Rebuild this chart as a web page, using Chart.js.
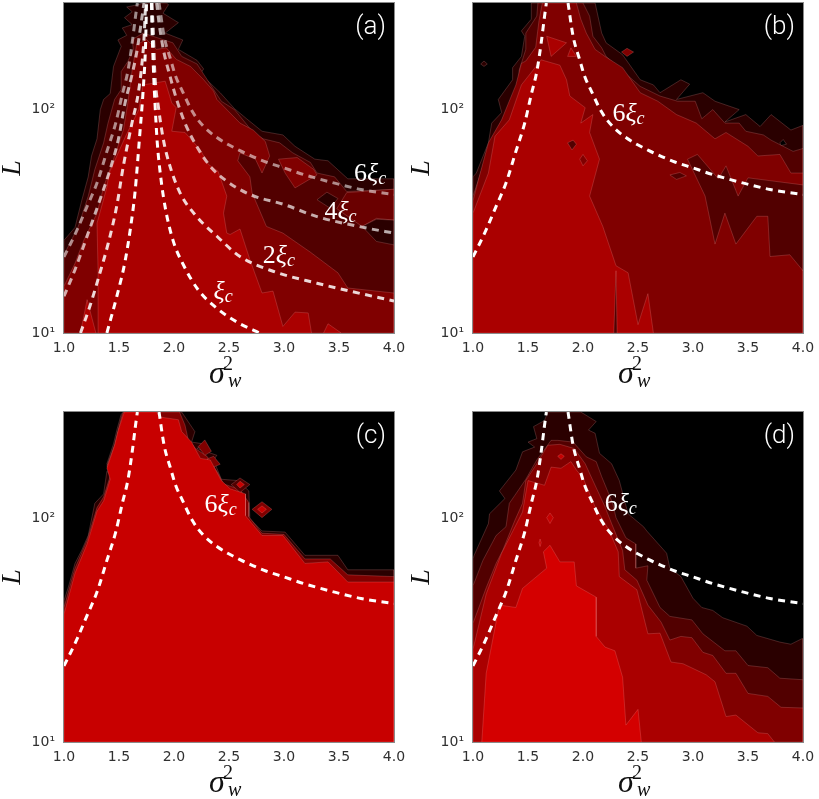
<!DOCTYPE html>
<html>
<head>
<meta charset="utf-8">
<title>Contours</title>
<script src="https://cdn.jsdelivr.net/npm/chart.js@4/dist/chart.umd.min.js"></script>
<style>
  html, body { margin: 0; padding: 0; background: #fff; }
  canvas { position: absolute; }
</style>
</head>
<body>
<canvas id="panelA" width="410" height="390" style="left:0;top:0"></canvas>
<canvas id="panelB" width="410" height="390" style="left:409px;top:0"></canvas>
<canvas id="panelC" width="410" height="390" style="left:0;top:409px"></canvas>
<canvas id="panelD" width="410" height="390" style="left:409px;top:409px"></canvas>
<script>
// every region is a list of [sigma_w^2, L]
const xTicks = [1.0, 1.5, 2.0, 2.5, 3.0, 3.5, 4.0];
const yTicks = [10, 100];
const yTickLabels = ["10¹", "10²"];

// dashed correlation length curves
const xi1Left = [[1.39,10],[1.48,14.6],[1.555,20.9],[1.615,32.1],[1.645,42.4],[1.69,78.7],[1.72,123],[1.742,199],[1.75,300]];
const xi1Right = [[1.795,300],[1.797,266],[1.812,156],[1.827,107],[1.848,71],[1.882,48.7],[1.924,35.6],[1.994,25.7],[2.085,20.2],[2.22,15.6],[2.39,12.9],[2.585,11.1],[2.78,10]];
const xi2Left = [[1.15,10],[1.236,13.2],[1.327,18.6],[1.403,25.3],[1.479,36.9],[1.539,55.7],[1.615,85.7],[1.676,119],[1.706,156],[1.727,206],[1.742,300]];
const xi2Right = [[1.8,300],[1.812,220],[1.827,141],[1.858,103],[1.903,73.5],[1.964,55.7],[2.055,42.4],[2.206,33.2],[2.39,27.1],[2.6,22],[2.9,18.9],[3.3,16.7],[3.6,15.4],[4,13.9]];
const xi4Left = [[1,14.6],[1.1,19.2],[1.22,28],[1.327,39.5],[1.418,53.8],[1.494,73.5],[1.555,107],[1.615,141],[1.66,179],[1.706,253],[1.727,300]];
const xi4Right = [[1.842,300],[1.864,244],[1.903,186],[1.964,141],[2.024,111],[2.1,87],[2.206,68.5],[2.33,55.7],[2.48,47.8],[2.69,41.7],[3,37.6],[3.3,33.2],[3.75,29.5],[4,28]];
const xi6Left = [[1,21.9],[1.12,29],[1.21,36.9],[1.3,46.9],[1.39,65],[1.47,87],[1.53,117],[1.58,148],[1.62,199],[1.65,261],[1.667,300]];
const xi6Right = [[1.864,300],[1.91,213],[1.97,167],[2.015,141],[2.076,121],[2.167,98],[2.26,85],[2.39,75],[2.6,65.5],[2.82,58.7],[3,54.8],[3.18,51.2],[3.45,47],[3.7,43.9],[4,41.7]];

// panel a
const a1 = [[1,10],[1,26],[1.1,29.7],[1.16,39],[1.22,50],[1.25,62],[1.3,74],[1.33,100],[1.36,111],[1.42,118],[1.45,156],[1.52,192],[1.49,205],[1.57,215],[1.53,232],[1.62,240],[1.55,258],[1.62,274],[1.57,288],[1.66,294],[1.72,300],[1.93,300],[1.95,295],[1.9,270],[2.04,245],[1.92,220],[2.08,205],[2.04,186],[2.21,166],[2.27,152],[2.24,145],[2.36,127],[2.42,119],[2.55,101],[2.66,91],[2.8,80],[2.99,77],[3.1,68.5],[3.28,60],[3.4,59],[3.58,49],[4,49],[4,10]];
const a2 = [[1,10],[1,22.4],[1.13,30],[1.22,40.9],[1.28,53.9],[1.36,71],[1.4,87],[1.46,111],[1.52,123],[1.52,148],[1.58,164],[1.63,186],[1.62,206],[1.72,220],[1.99,199],[2.07,173],[2.21,160],[2.36,123],[2.43,109],[2.55,100],[2.72,79],[2.81,74],[2.96,71],[3.08,64],[3.24,58],[3.3,52],[3.46,50],[3.57,43],[4,44],[4,10]];
const a3 = [[1,10],[1,16.2],[1.1,20.5],[1.18,26],[1.3,34.4],[1.36,45],[1.45,60],[1.54,81],[1.58,107],[1.62,151],[1.66,195],[1.75,206],[1.84,186],[1.93,189],[2.02,168],[2.15,156],[2.27,136],[2.36,121],[2.39,111],[2.6,87],[2.72,81],[2.83,72],[2.87,62],[2.8,52],[2.74,60],[2.6,64],[2.58,59],[2.69,50],[2.71,42.4],[2.84,30],[2.99,28],[3.24,23],[3.49,18.6],[3.58,15.9],[4,15.1],[4,10]];
const aWedge = [[2.95,60],[3.12,61],[3.27,54],[3.3,51],[3.1,44.6],[3.01,52]];
const aPatch = [[3.57,42.5],[4,44],[4,32],[3.84,32.6],[3.71,30],[3.48,36]];
const aDarkRight = [[3.71,30],[3.84,32.3],[4,32],[4,24.8],[3.84,25.7]];
const aDiamond = [[3.3,39.5],[3.39,42.7],[3.49,40],[3.42,36.2]];
const a4 = [[1.31,10],[1.31,18.6],[1.3,31],[1.39,45],[1.41,52],[1.48,62],[1.56,76],[1.68,100],[1.72,129],[1.92,134],[1.98,107],[2.02,102],[1.98,80],[2.1,79],[2.24,66],[2.31,57],[2.4,53],[2.48,41],[2.45,34.4],[2.48,28],[2.51,27.6],[2.6,29.2],[2.69,21.3],[2.8,15.1],[2.9,15.4],[2.99,10.7],[3.1,12.4],[3.22,12.3],[3.25,10]];
const aIsland = [[3.36,10],[3.4,11],[3.52,10]];
const aTriangle = [[1.21,14.1],[1.29,10],[1.15,10]];

// panel b
const b1 = [[1,10],[1,50],[1.03,52],[1.14,71],[1.17,87],[1.26,97],[1.23,111],[1.36,136],[1.36,154],[1.44,173],[1.47,213],[1.44,225],[1.53,254],[1.53,300],[2.11,300],[2.17,220],[2.21,199],[2.36,176],[2.52,136],[2.64,129],[2.7,119],[2.89,136],[2.97,130],[2.85,111],[3.09,119],[3.2,109],[3.42,100],[3.29,88],[3.48,95],[3.61,84],[3.71,95],[3.89,81],[4,85],[4,10]];
const b2 = [[1,10],[1,41],[1.09,55.7],[1.17,73],[1.3,97],[1.42,127],[1.42,150],[1.48,186],[1.48,220],[1.58,262],[1.59,300],[2,300],[2.06,262],[2.09,213],[2.17,189],[2.21,173],[2.3,158],[2.52,127],[2.7,115],[2.86,109],[3.02,109],[3.08,91],[3.18,100],[3.29,87],[3.42,87],[3.48,80],[3.64,77],[3.71,73],[3.91,65],[4,67],[4,10]];
const b3 = [[1,10],[1,39],[1.05,48.7],[1.14,71],[1.26,90],[1.39,129],[1.44,161],[1.48,165],[1.57,190],[1.6,250],[1.63,300],[1.94,300],[1.98,254],[2.03,220],[2.11,186],[2.2,173],[2.36,154],[2.52,119],[2.68,109],[2.85,95],[3.03,87],[3.2,74],[3.3,79],[3.5,68.5],[3.59,62],[3.79,63],[3.89,52],[4,52],[4,10]];
const bDark = [[2.95,60],[3.04,63],[3.23,49],[3.3,56],[3.41,41],[3.5,49.5],[4,46],[4,19],[3.88,22.4],[3.7,22],[3.68,33.3],[3.58,33.3],[3.39,25],[3.29,34.4],[3.2,25],[3.11,41]];
const bSmallDark = [[2.79,51],[2.88,52.3],[2.94,50.5],[2.85,48.7]];
const b4 = [[1,10],[1,34.4],[1.14,52],[1.2,76],[1.33,90],[1.44,129],[1.62,167],[1.79,158],[1.85,136],[1.88,115],[2.02,102],[1.98,87],[2.09,95],[2.06,79],[2.15,60],[2.06,41],[2.18,30],[2.3,20],[2.41,18.6],[2.5,10.9],[2.59,15],[2.64,10]];
const bTopPatch1 = [[1.67,213],[1.85,199],[1.71,173]];
const bTopPatch2 = [[1.89,189],[1.94,173],[1.86,173]];
const bHole1 = [[1.86,71],[1.91,73],[1.94,70],[1.9,66]];
const bHole2 = [[1.97,60],[2,63],[2.04,59],[2,56]];
const bSlit = [[2.28,10],[2.3,19],[2.31,10]];
const bSpeck1 = [[2.35,181],[2.4,188],[2.46,181],[2.4,173]];
const bSpeck2 = [[1.07,160],[1.1,165],[1.13,160],[1.1,156]];
const bBlack1 = [[2.98,103],[3,108],[3.04,101],[3,99]];
const bBlack2 = [[3.79,71],[3.82,73.5],[3.85,70],[3.8,69]];

// panel c
const c1 = [[1,10],[1,43],[1.04,49.4],[1.1,63],[1.16,72],[1.22,84],[1.28,117],[1.36,129],[1.39,163],[1.43,156],[1.39,176],[1.45,216],[1.48,249],[1.52,293],[1.54,300],[2.07,300],[2.19,245],[2.16,220],[2.27,216],[2.21,206],[2.39,192],[2.36,183],[2.43,150],[2.58,148],[2.68,133],[2.69,100],[2.8,88],[3.01,87],[3.19,68.5],[3.49,68.5],[3.58,59],[4,59],[4,10]];
const c2 = [[1,10],[1,40],[1.1,60],[1.21,80],[1.3,112],[1.36,125],[1.42,155],[1.39,172],[1.46,214],[1.49,247],[1.53,293],[1.54,300],[2.05,300],[2.1,262],[2.13,225],[2.2,205],[2.3,190],[2.4,160],[2.45,143],[2.6,135],[2.68,118],[2.68,102],[2.8,86],[3,85],[3.19,66],[3.42,66],[3.58,56],[4,55],[4,10]];
const cMain = [[1,10],[1,37.4],[1.1,57],[1.21,77],[1.3,108],[1.36,120],[1.42,150],[1.39,168],[1.46,213],[1.49,245],[1.54,293],[1.55,300],[1.84,300],[1.87,285],[2.04,277],[2.07,245],[2.16,220],[2.24,186],[2.33,183],[2.43,148],[2.51,136],[2.65,129],[2.65,103],[2.8,84],[2.99,84],[3.19,63],[3.4,64],[3.58,52],[4,52],[4,10]];
const cDiamond1 = [[2.71,110],[2.8,119],[2.89,110],[2.8,101]];
const cDiamond1Core = [[2.76,110],[2.8,114],[2.84,110],[2.8,106]];
const cDiamond2 = [[2.52,142],[2.6,152],[2.69,142],[2.6,131]];
const cDiamond2Core = [[2.57,142],[2.6,147],[2.64,142],[2.6,137]];
const cDiamond3 = [[2.22,210],[2.28,225],[2.34,200],[2.28,192]];
const cDiamond4 = [[2.3,185],[2.36,190],[2.42,175],[2.36,170]];

// panel d
const d1 = [[1,10],[1,66],[1.01,68.5],[1.14,95],[1.15,105],[1.29,123],[1.24,133],[1.39,165],[1.45,199],[1.56,209],[1.5,220],[1.58,228],[1.55,258],[1.65,275],[1.68,300],[1.98,300],[2.12,272],[2.05,249],[2.11,241],[2.15,196],[2.26,176],[2.33,148],[2.41,105],[2.55,92],[2.58,88],[2.76,70],[2.79,60],[2.89,55],[3,44],[3.08,40],[3.18,38.8],[3.27,36],[3.49,33],[3.58,30],[3.79,28],[3.89,27.4],[3.99,29],[4,29],[4,10]];
const d2 = [[1,10],[1,50],[1.09,65],[1.21,84],[1.3,92],[1.33,117],[1.38,127],[1.48,150],[1.58,183],[1.71,224],[1.77,224],[1.91,220],[2.03,189],[2.12,180],[2.17,154],[2.27,117],[2.3,101],[2.39,82],[2.48,77],[2.48,60],[2.59,61.5],[2.58,53],[2.7,40],[2.79,36.5],[2.99,35.2],[3.09,30.5],[3.29,25.6],[3.39,25.6],[3.5,22],[3.68,21.5],[3.79,19.3],[4,19],[4,10]];
const d3 = [[1,10],[1,34],[1.12,49],[1.21,63],[1.27,72],[1.38,98],[1.45,117],[1.48,148],[1.58,176],[1.68,213],[1.79,215],[1.92,206],[2.02,176],[2.09,148],[2.2,113],[2.26,95],[2.36,72],[2.38,59],[2.49,53],[2.59,41],[2.71,34.4],[2.79,28.6],[2.89,29.7],[2.99,29.3],[3.09,25.2],[3.18,24.4],[3.3,20.3],[3.39,20.3],[3.5,16.5],[3.68,16],[3.8,14.3],[4,14.2],[4,10]];
const d4 = [[1,10],[1,26],[1.12,46],[1.26,70],[1.45,107],[1.5,148],[1.65,141],[1.71,170],[1.8,168],[1.89,180],[1.94,165],[2,152],[2.11,113],[2.24,88],[2.32,71],[2.33,55],[2.49,48],[2.59,30.5],[2.7,30.7],[2.8,22.8],[2.91,22.4],[3.12,20],[3.2,18.6],[3.3,13],[3.39,13.2],[3.59,11],[3.68,10.9],[3.74,10]];
const d5 = [[1.08,10],[1.12,20.3],[1.24,41],[1.39,40],[1.45,48.7],[1.67,60],[1.64,71],[1.7,76],[1.79,64],[1.92,64],[1.94,50],[2.12,44.5],[2.12,29.7],[2.2,26.6],[2.29,25.6],[2.36,19.5],[2.39,11.9],[2.5,14],[2.53,10]];
const dSpeck1 = [[1.67,101],[1.7,106],[1.73,101],[1.7,95]];
const dSpeck2 = [[1.77,190],[1.8,195],[1.83,190],[1.8,184]];
const dSpeck3 = [[1.6,78],[1.61,81],[1.62,78],[1.61,75]];

const BLACK = "#000000", L1 = "#2a0000", L2 = "#520000", L3 = "#800000", L4 = "#aa0000", L5 = "#d40000", MAIN_C = "#c80000";

function region(points, color) {
  return {
    type: "line",
    data: [...points, points[0]].map(p => ({ x: p[0], y: p[1] })),
    fill: "shape",
    backgroundColor: color,
    borderColor: "rgba(255,170,170,0.3)",
    borderWidth: 0.7,
    pointRadius: 0,
    tension: 0,
  };
}

function curve(points, color) {
  return {
    type: "line",
    data: points.map(p => ({ x: p[0], y: p[1] })),
    fill: false,
    borderColor: color,
    borderWidth: 3,
    borderDash: [7, 5.5],
    pointRadius: 0,
    cubicInterpolationMode: "monotone",
  };
}

// black ground, frame and the text that sits inside or around the axes
const panelDecor = {
  id: "panelDecor",
  beforeDatasetsDraw(chart) {
    const a = chart.chartArea, c = chart.ctx;
    c.save();
    c.fillStyle = BLACK;
    c.fillRect(a.left, a.top, a.width, a.height);
    c.restore();
  },
  afterDraw(chart) {
    const a = chart.chartArea, c = chart.ctx, o = chart.options.plugins.panelDecor;
    c.save();
    c.strokeStyle = "#8a8a8a";
    c.lineWidth = 1;
    c.strokeRect(a.left - 0.5, a.top - 0.5, a.width + 1, a.height + 1);

    c.fillStyle = "#ffffff";
    c.textBaseline = "alphabetic";
    c.textAlign = "right";
    c.font = '300 26px Roboto';
    c.fillText(o.tag, a.right - 8, a.top + 31);

    c.textAlign = "left";
    o.notes.forEach(n => {
      let px = chart.scales.x.getPixelForValue(n[2]) - (n[0] ? 19 : 10);
      const py = chart.scales.y.getPixelForValue(n[3]);
      c.font = '26px "Liberation Serif"';
      c.fillText(n[0], px, py + 8);
      px += c.measureText(n[0]).width;
      c.font = 'italic 26px "Liberation Serif"';
      c.fillText(n[1], px, py + 8);
      px += c.measureText(n[1]).width;
      c.font = 'italic 18px "Liberation Serif"';
      c.fillText("c", px, py + 11);
    });

    c.fillStyle = "#111111";
    const mid = (a.left + a.right) / 2;
    c.font = 'italic 32px "Liberation Serif"';
    c.fillText("σ", mid - 20, a.bottom + 50);
    c.font = '20px "Liberation Serif"';
    c.fillText("2", mid - 6, a.bottom + 37);
    c.font = 'italic 20px "Liberation Serif"';
    c.fillText("w", mid - 1, a.bottom + 54);

    c.translate(20, (a.top + a.bottom) / 2);
    c.rotate(-Math.PI / 2);
    c.textAlign = "center";
    c.font = 'italic 28px "Liberation Serif"';
    c.fillText("L", 0, 0);
    c.restore();
  },
};

function noPadding(s) {
  s.paddingTop = 0;
  s.paddingBottom = 0;
  s.paddingLeft = 0;
  s.paddingRight = 0;
}

function makePanel(id, tag, layers, curves, notes) {
  const datasets = [...layers.map(l => region(l[0], l[1])), ...curves.map(l => curve(l[0], l[1]))].reverse();
  new Chart(document.getElementById(id), {
    type: "line",
    data: { datasets },
    plugins: [panelDecor],
    options: {
      responsive: false,
      animation: false,
      layout: { padding: { top: 3, right: 16 } },
      plugins: {
        legend: { display: false },
        tooltip: { enabled: false },
        panelDecor: { tag, notes },
      },
      scales: {
        x: {
          type: "linear",
          min: 1,
          max: 4,
          grid: { display: false, drawTicks: false },
          border: { display: false },
          afterBuildTicks: s => { s.ticks = xTicks.map(v => ({ value: v })); },
          afterFit: s => { s.height = 57; noPadding(s); },
          ticks: {
            padding: 7,
            maxRotation: 0,
            color: "#303030",
            font: { family: "DejaVu Sans", size: 14 },
            callback: v => v.toFixed(1),
          },
        },
        y: {
          type: "logarithmic",
          min: 10,
          max: 300,
          grid: { display: false, drawTicks: false },
          border: { display: false },
          afterBuildTicks: s => { s.ticks = yTicks.map(v => ({ value: v })); },
          afterFit: s => { s.width = 64; noPadding(s); },
          ticks: {
            padding: 9,
            color: "#303030",
            font: { family: "DejaVu Sans", size: 14 },
            callback: v => yTickLabels[yTicks.indexOf(v)],
          },
        },
      },
    },
  });
}

const WHITE = "#ffffff";

makePanel("panelA", "(a)",
  [[a1, L1], [a2, L2], [a3, L3], [aWedge, L3], [aPatch, "#6a0000"], [aDarkRight, L1], [aDiamond, L1], [a4, L4], [aIsland, "#aa0000"], [aTriangle, "#b00000"]],
  [[xi6Left, "rgba(255,255,255,0.55)"], [xi6Right, "rgba(255,255,255,0.55)"],
   [xi4Left, "rgba(255,255,255,0.68)"], [xi4Right, "rgba(255,255,255,0.68)"],
   [xi2Left, "rgba(255,255,255,0.85)"], [xi2Right, "rgba(255,255,255,0.85)"],
   [xi1Left, WHITE], [xi1Right, WHITE]],
  [["6", "ξ", 3.81, 52], ["4", "ξ", 3.54, 35], ["2", "ξ", 2.98, 22.4], ["", "ξ", 2.45, 15.4]]);

makePanel("panelB", "(b)",
  [[b1, L1], [bSpeck1, L3], [bSpeck2, L1], [bBlack1, BLACK], [bBlack2, BLACK], [b2, L2], [b3, L3], [bDark, L2], [bSmallDark, L2], [b4, L4], [bTopPatch1, L4], [bTopPatch2, L4], [bHole1, L2], [bHole2, L3], [bSlit, L2]],
  [[xi6Left, WHITE], [xi6Right, WHITE]],
  [["6", "ξ", 2.44, 97]]);

makePanel("panelC", "(c)",
  [[c1, L1], [c2, L3], [cDiamond3, L3], [cDiamond4, L3], [cDiamond1, L3], [cDiamond1Core, MAIN_C], [cDiamond2, L2], [cDiamond2Core, MAIN_C], [cMain, MAIN_C]],
  [[xi6Left, WHITE], [xi6Right, WHITE]],
  [["6", "ξ", 2.45, 116]]);

makePanel("panelD", "(d)",
  [[d1, L1], [d2, L2], [d3, L3], [d4, L4], [dSpeck1, "#c40000"], [dSpeck2, "#c40000"], [dSpeck3, "#c40000"], [d5, L5]],
  [[xi6Left, WHITE], [xi6Right, WHITE]],
  [["6", "ξ", 2.37, 117]]);
</script>
</body>
</html>
